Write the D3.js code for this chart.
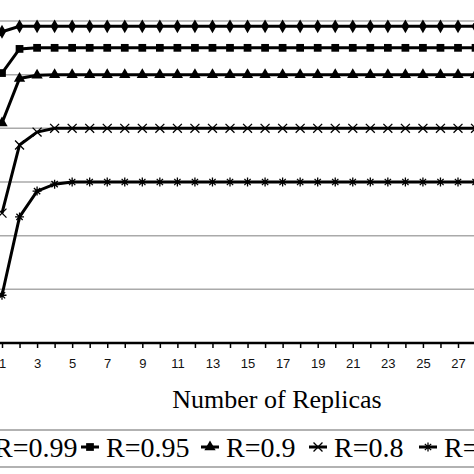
<!DOCTYPE html><html><head><script src="https://cdn.jsdelivr.net/npm/d3@7"></script>
<style>body{margin:0;background:#fff}.serif{font-family:'Liberation Serif','Times New Roman',serif}</style></head><body><script>
const xs = d3.range(1, 29);
const seriesNames = ["R=0.99","R=0.95","R=0.9","R=0.8","R=0.7"];
const plateau = [0.99,0.95,0.9,0.8,0.7];
const early = [[0.98,0.99],[0.903,0.948],[0.81,0.893,0.899],[0.642,0.769,0.793,0.8],[0.489,0.635,0.683,0.696,0.7]];
const yTicks = [0.4,0.5,0.6,0.7,0.8,0.9,1.0];
const xTicks = d3.range(1, 28, 2);
const W=474,H=474;
const svg=d3.select("body").append("svg").attr("width",W).attr("height",H);
const x=d3.scaleLinear().domain([1,27]).range([2,458]);
const y=d3.scaleLinear().domain([0.4,1.0]).range([343,21]);
svg.append("g").selectAll("line").data(yTicks.slice(1)).join("line")
 .attr("x1",0).attr("x2",W).attr("y1",d=>y(d)).attr("y2",d=>y(d)).attr("stroke","#aaa").attr("stroke-width",1.5);
const ax=svg.append("g").attr("transform","translate(0,343)")
 .call(d3.axisBottom(x).tickValues(d3.range(1,29)).tickFormat(d=>xTicks.includes(d)?d:"").tickSize(6).tickSizeOuter(0));
ax.select(".domain").attr("stroke","#000").attr("stroke-width",2.5).attr("d","M0,0H"+W);
ax.selectAll(".tick line").attr("y1",0).attr("y2",5).attr("stroke-width",1.5);
ax.selectAll("text").attr("font-family","Liberation Sans, Arial, sans-serif").attr("font-size",13).attr("dy","1.2em").attr("fill","#111");
const shapes=[d3.symbolDiamond,d3.symbolSquare,d3.symbolTriangle,d3.symbolX,"star"];
function mark(g,i,cx,cy,s){
 if(shapes[i]==="star"){
  const r=4.5;
  g.append("path").attr("d",`M${cx-r},${cy}H${cx+r}M${cx-r*.7},${cy-r*.7}L${cx+r*.7},${cy+r*.7}M${cx-r*.7},${cy+r*.7}L${cx+r*.7},${cy-r*.7}M${cx},${cy-r}V${cy+r}`).attr("stroke","#000").attr("stroke-width",1.3).attr("fill","none");
 } else if(shapes[i]===d3.symbolX){
  g.append("path").attr("d",d3.symbol().type(d3.symbolX).size(s*0.9)()).attr("transform",`translate(${cx},${cy})`).attr("stroke","#000").attr("stroke-width",1.3).attr("fill","none");
 } else {
  const sz=[55,60,55][i];
  g.append("path").attr("d",d3.symbol().type(shapes[i]).size(sz)()).attr("transform",`translate(${cx},${cy})`).attr("fill","#000");
 }
}
seriesNames.forEach((n,i)=>{
 const vals=xs.map((xx,k)=>k<early[i].length?early[i][k]:plateau[i]);
 const g=svg.append("g");
 g.append("path").datum(vals).attr("fill","none").attr("stroke","#000").attr("stroke-width",3)
  .attr("d",d3.line().x((d,k)=>x(xs[k])).y(d=>y(d)));
 vals.forEach((v,k)=>mark(g,i,x(xs[k]),y(v),60));
});
svg.append("text").attr("class","serif").attr("x",277).attr("y",408).attr("text-anchor","middle").attr("font-size",26).text("Number of Replicas");
svg.append("line").attr("x1",0).attr("x2",W).attr("y1",430).attr("y2",430).attr("stroke","#999").attr("stroke-width",1.5);
svg.append("line").attr("x1",0).attr("x2",W).attr("y1",467).attr("y2",467).attr("stroke","#999").attr("stroke-width",1.5);
const legX=[-22,90,210,318,428];
seriesNames.forEach((n,i)=>{
 const g=svg.append("g");
 const lx=legX[i];
 g.append("line").attr("x1",lx-9).attr("x2",lx+9).attr("y1",447).attr("y2",447).attr("stroke","#000").attr("stroke-width",3);
 mark(g,i,lx,447,60);
 g.append("text").attr("class","serif").attr("x",lx+16).attr("y",457).attr("font-size",28).text(n);
});
</script></body></html>
